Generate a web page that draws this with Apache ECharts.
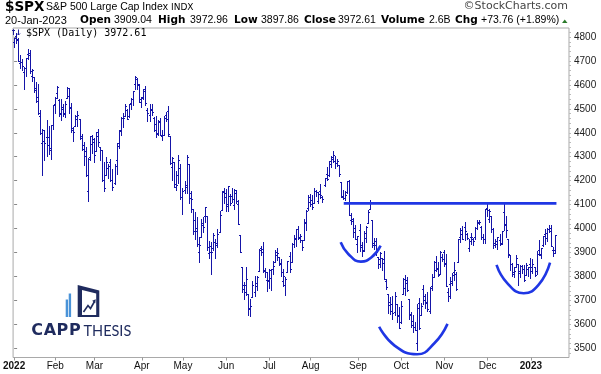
<!DOCTYPE html>
<html><head><meta charset="utf-8">
<script src="https://cdn.jsdelivr.net/npm/echarts@6/dist/echarts.min.js"></script>
<style>html,body{margin:0;padding:0;background:#fff}#c{width:601px;height:374px}</style>
</head><body><div id="c"></div>
<script>
// ---------- DATA (S&P 500 daily, 3-Jan-2022 .. 20-Jan-2023) ----------
const opens = [
// Jan 2022
4778.14,4804.51,4787.99,4693.39,4697.66,4655.34,4669.14,4728.59,4733.56,4637.99,4632.24,4588.03,4547.35,4471.38,4356.32,4366.64,4380.58,4380.58,4336.19,4431.79,
// Feb
4519.57,4566.39,4535.41,4482.79,4505.75,4480.02,4547.00,4553.24,4506.27,4412.61,4429.28,4455.75,4456.06,4384.57,4332.74,4324.93,4155.77,4298.38,4354.17,
// Mar
4363.14,4322.56,4401.31,4342.12,4327.01,4202.66,4223.10,4252.55,4279.50,4202.75,4188.82,4288.14,4345.11,4407.34,4462.40,4469.10,4493.10,4469.98,4522.66,4541.09,4602.86,4624.20,4599.02,
// Apr
4540.32,4547.97,4572.45,4494.17,4474.65,4494.15,4462.64,4437.59,4394.30,4449.12,4385.63,4390.63,4472.26,4489.17,4385.83,4255.34,4278.14,4186.52,4222.58,4253.75,
// May
4130.61,4159.78,4181.18,4270.43,4128.17,4081.27,4035.18,3990.08,3903.95,3963.90,4013.02,4052.00,4051.98,3899.00,3927.76,3919.42,3942.94,3929.59,3984.60,4077.43,4151.09,
// Jun
4149.78,4095.41,4137.57,4134.72,4096.47,4147.12,4101.65,3974.39,3838.15,3763.52,3764.05,3728.18,3665.90,3715.31,3733.89,3774.71,3821.75,3920.76,3913.00,3825.09,3785.99,
// Jul
3781.00,3792.61,3831.98,3858.85,3888.26,3880.94,3851.95,3779.67,3763.99,3818.00,3883.79,3860.73,3935.32,3955.47,3998.43,3965.72,3953.22,3951.43,4026.13,4087.33,
// Aug
4112.38,4104.21,4107.96,4154.85,4115.87,4155.93,4133.11,4181.02,4227.40,4225.02,4269.37,4290.46,4280.40,4273.13,4266.31,4195.08,4133.09,4126.55,4153.26,4198.74,4034.58,4041.25,4000.67,
// Sep
3936.73,3994.66,3930.89,3909.43,3959.94,4022.94,4083.67,4037.12,3940.73,3932.41,3880.95,3849.91,3875.23,3871.40,3782.36,3727.14,3682.72,3686.44,3651.94,3687.01,3633.48,
// Oct
3609.78,3726.46,3753.25,3771.97,3706.74,3644.79,3595.86,3590.83,3520.37,3690.41,3638.65,3746.26,3703.11,3689.05,3657.10,3762.01,3799.44,3825.97,3834.69,3808.26,3881.85,
// Nov
3901.79,3852.90,3733.25,3766.98,3780.71,3817.02,3810.94,3859.89,3963.72,3977.97,4006.41,3976.82,3919.26,3966.39,3956.23,3965.51,4000.30,4023.34,4005.36,3964.19,3957.18,
// Dec
4087.14,4040.17,4052.02,3996.63,3933.28,3947.79,3954.17,3939.29,4069.38,4015.54,3958.37,3890.91,3853.79,3810.47,3839.49,3853.26,3815.11,3843.34,3829.56,3805.45,3829.06,
// Jan 2023
3853.29,3840.36,3839.74,3823.37,3910.82,3888.57,3932.35,3977.57,3960.60,3999.28,4002.25,3911.84,3909.04
];
const highs = [
4796.64,4818.62,4797.70,4725.01,4707.95,4673.02,4714.13,4748.83,4744.13,4665.13,4632.24,4611.55,4602.11,4494.52,4417.35,4411.01,4453.23,4428.74,4432.72,4516.89,
4550.49,4595.31,4542.88,4539.66,4521.86,4531.32,4590.03,4588.92,4526.33,4426.22,4472.77,4489.55,4456.06,4394.60,4362.12,4341.51,4294.73,4385.34,4388.84,
4378.45,4401.48,4416.78,4342.12,4327.01,4276.94,4299.40,4268.28,4291.01,4247.57,4271.05,4357.86,4412.67,4465.40,4481.75,4522.00,4501.07,4520.58,4546.03,4575.65,4637.30,4627.77,4603.07,
4548.70,4583.50,4593.45,4503.94,4521.16,4520.41,4464.35,4471.00,4453.92,4460.46,4410.31,4471.03,4488.29,4512.94,4385.83,4299.02,4278.14,4240.71,4308.45,4269.68,
4169.81,4200.10,4307.66,4270.43,4157.69,4081.27,4068.82,4049.09,3964.80,4038.88,4046.46,4088.12,4051.98,3945.96,3943.42,3981.88,3955.68,3999.33,4075.14,4158.49,4168.34,
4166.54,4177.51,4142.67,4168.78,4164.86,4160.14,4119.10,3974.39,3838.15,3778.18,3837.56,3728.18,3707.71,3779.65,3801.79,3802.58,3913.65,3927.72,3945.86,3836.50,3818.99,
3829.82,3832.19,3865.06,3910.63,3918.50,3880.94,3873.41,3829.44,3796.41,3863.62,3902.44,3939.81,3974.13,3999.29,4012.44,3975.30,3953.22,4039.56,4078.95,4140.15,
4144.95,4140.47,4167.66,4161.29,4151.58,4186.62,4137.30,4211.03,4257.91,4280.47,4301.79,4325.28,4302.18,4292.53,4266.31,4195.08,4159.77,4156.56,4200.54,4203.04,4062.99,4044.98,4015.37,
3970.23,4018.43,3942.55,3987.89,4010.50,4076.81,4119.28,4037.12,3961.94,3959.14,3880.95,3900.45,3876.01,3907.07,3790.20,3727.14,3715.67,3717.53,3736.74,3687.01,3671.44,
3698.35,3791.92,3806.91,3797.93,3706.74,3652.17,3640.66,3611.72,3685.41,3712.00,3689.73,3762.79,3728.58,3736.00,3757.89,3810.74,3862.85,3886.15,3859.95,3905.42,3893.73,
3911.79,3894.44,3750.59,3796.34,3813.95,3859.40,3818.20,3958.33,4001.48,4008.97,4028.84,3983.09,3954.33,3979.89,3962.00,4005.88,4033.78,4034.02,4012.27,3976.77,4080.11,
4100.51,4080.48,4052.45,4001.51,3957.57,3966.65,3977.02,3990.71,4100.96,4053.76,3958.37,3890.91,3854.86,3838.24,3889.82,3853.26,3845.80,3846.65,3848.32,3858.19,3839.85,
3878.46,3873.16,3839.74,3906.19,3950.57,3919.83,3970.07,3997.76,4003.95,4015.39,4014.16,3922.94,3972.96
];
const lows = [
4758.17,4774.27,4699.44,4671.26,4662.74,4582.24,4638.27,4706.71,4650.29,4614.75,4568.70,4530.20,4477.95,4395.34,4222.62,4287.11,4304.80,4309.50,4292.46,4414.02,
4483.53,4544.32,4470.39,4451.50,4471.47,4465.40,4547.00,4484.31,4401.41,4364.84,4429.28,4429.68,4373.81,4327.22,4267.11,4221.51,4114.65,4286.83,4315.12,
4279.54,4322.56,4345.56,4284.98,4199.85,4157.87,4223.10,4209.80,4200.49,4161.72,4187.90,4229.34,4335.65,4390.57,4424.30,4469.10,4455.81,4465.17,4501.07,4517.69,4581.18,4581.32,4530.41,
4507.57,4539.21,4514.17,4450.04,4450.30,4474.60,4408.38,4381.34,4392.70,4392.59,4370.30,4390.63,4448.76,4384.47,4267.62,4200.82,4175.04,4162.90,4188.63,4124.28,
4062.51,4147.08,4148.91,4106.01,4067.91,3975.48,3958.17,3928.82,3858.87,3963.90,3983.99,4025.64,3911.91,3876.58,3810.32,3909.04,3875.13,3925.03,3984.60,4077.43,4104.88,
4073.85,4074.37,4098.67,4109.18,4080.19,4107.20,4017.17,3900.16,3734.30,3705.68,3722.30,3639.77,3636.87,3715.31,3717.69,3743.52,3821.75,3889.66,3820.14,3799.02,3738.67,
3752.10,3742.06,3811.39,3858.85,3869.34,3847.22,3802.36,3759.07,3721.56,3817.18,3818.63,3860.73,3922.03,3927.64,3955.77,3943.46,3910.74,3951.43,3992.97,4079.22,
4096.02,4079.81,4107.96,4135.42,4107.31,4128.97,4112.09,4177.26,4201.41,4219.78,4256.90,4277.77,4253.08,4261.98,4218.70,4129.86,4124.03,4119.97,4147.59,4057.66,4017.42,3965.21,3954.53,
3903.65,3906.21,3886.75,3906.03,3944.81,4022.94,4083.67,3921.21,3912.93,3888.28,3837.08,3838.50,3827.54,3789.49,3749.45,3647.47,3644.76,3623.29,3640.61,3610.40,3584.13,
3604.93,3726.46,3722.66,3739.22,3620.73,3588.10,3568.45,3575.47,3491.58,3579.68,3638.65,3686.53,3666.51,3656.44,3647.42,3741.65,3799.44,3824.07,3803.79,3808.26,3863.18,
3843.80,3758.68,3698.15,3708.84,3764.70,3786.28,3744.22,3859.89,3944.82,3956.40,3953.17,3954.34,3906.54,3935.98,3933.34,3956.88,3998.66,4020.76,3955.77,3937.65,3938.58,
4050.87,4026.63,3984.49,3918.39,3922.68,3916.54,3933.04,3935.30,3993.03,3965.65,3879.45,3827.91,3800.04,3795.62,3839.49,3764.49,3797.01,3813.22,3780.78,3805.45,3800.34,
3794.33,3815.77,3802.42,3809.56,3890.42,3877.29,3928.54,3937.56,3947.67,3984.57,3926.59,3885.54,3897.86
];
const closes = [
4796.56,4793.54,4700.58,4696.05,4677.03,4670.29,4713.07,4726.35,4659.03,4662.85,4577.11,4532.76,4482.73,4397.94,4410.13,4356.45,4349.93,4326.51,4431.85,4515.55,
4546.54,4589.38,4477.44,4500.53,4483.87,4521.54,4587.18,4504.08,4418.64,4401.67,4471.07,4475.01,4380.26,4348.87,4304.76,4225.50,4288.70,4384.65,4373.94,
4306.26,4386.54,4363.49,4328.87,4201.09,4170.70,4277.88,4259.52,4204.31,4173.11,4262.45,4357.86,4411.67,4463.12,4461.18,4511.61,4456.24,4520.16,4543.06,4575.52,4631.60,4602.45,4530.41,
4545.86,4582.64,4525.12,4481.15,4500.21,4488.28,4412.53,4397.45,4446.59,4392.59,4391.69,4462.21,4459.45,4393.66,4271.78,4296.12,4175.20,4183.96,4287.50,4131.93,
4155.38,4175.48,4300.17,4146.87,4123.34,3991.24,4001.05,3935.18,3930.08,4023.89,4008.01,4088.85,3923.68,3900.79,3901.36,3973.75,3941.48,3978.73,4057.84,4158.24,4132.15,
4101.23,4176.82,4108.54,4121.43,4160.68,4115.77,4017.82,3900.86,3749.63,3735.48,3789.99,3666.77,3674.84,3764.79,3759.89,3795.73,3911.74,3900.11,3821.55,3818.83,3785.38,
3825.33,3831.39,3845.08,3902.62,3899.38,3854.43,3818.80,3801.78,3790.38,3863.16,3830.85,3936.69,3959.90,3998.95,3961.63,3966.84,3921.05,4023.61,4072.43,4130.29,
4118.63,4091.19,4155.17,4151.94,4145.19,4140.06,4122.47,4210.24,4207.27,4280.15,4297.14,4305.20,4274.04,4283.74,4228.48,4137.99,4128.73,4140.77,4199.12,4057.66,4030.61,3986.16,3955.00,
3966.85,3924.26,3908.19,3979.87,4006.18,4067.36,4110.41,3932.69,3946.01,3901.35,3873.33,3899.89,3855.93,3789.93,3757.99,3693.23,3655.04,3647.29,3719.04,3640.47,3585.62,
3678.43,3790.93,3783.28,3744.52,3639.66,3612.39,3588.84,3577.03,3669.91,3583.07,3677.95,3719.98,3695.16,3665.78,3752.75,3797.34,3859.11,3830.60,3807.30,3901.06,3871.98,
3856.10,3759.69,3719.89,3770.55,3806.80,3828.11,3748.57,3956.37,3992.93,3957.25,3991.73,3958.79,3946.56,3965.34,3949.94,4003.58,4027.26,4026.12,3963.94,3957.63,4080.11,
4076.57,4071.70,3998.84,3941.26,3933.92,3963.51,3934.38,3990.56,4019.65,3995.32,3895.75,3852.36,3817.66,3821.62,3878.44,3822.39,3844.82,3829.25,3783.22,3849.28,3839.50,
3824.14,3852.97,3808.10,3895.08,3892.09,3919.25,3969.61,3983.17,3999.09,3990.97,3928.86,3898.85,3972.61
];
const holidays = ['2022-01-17','2022-02-21','2022-04-15','2022-05-30','2022-06-20','2022-07-04','2022-09-05','2022-11-24','2022-12-26','2023-01-02','2023-01-16'];
const yTicks = [3500,3600,3700,3800,3900,4000,4100,4200,4300,4400,4500,4600,4700,4800];
const monthNames = ['Jan','Feb','Mar','Apr','May','Jun','Jul','Aug','Sep','Oct','Nov','Dec'];
// annotations drawn by the chartist, in (trading-day position, price)
const resistanceLine = [[160.1,4105],[263.4,4105]];
const cupSep = [[158.6,3943],[162.3,3894],[168.4,3862],[173.6,3880],[178.0,3929]];
const cupOct = [[177.3,3590],[184.8,3511],[195.7,3475],[204.1,3521],[210.5,3602]];
const cupDec = [[234.3,3848],[239.5,3772],[247.5,3730],[254.7,3765],[260.3,3858]];

// ---------- build ----------
function tradingDays(start, end) {
  const out = [];
  const s = new Date(start + 'T00:00:00Z'), e = new Date(end + 'T00:00:00Z');
  for (let d = s; d <= e; d = new Date(d.getTime() + 86400000)) {
    const wd = d.getUTCDay();
    const iso = d.toISOString().slice(0, 10);
    if (wd === 0 || wd === 6 || holidays.includes(iso)) continue;
    out.push(iso);
  }
  return out;
}
const dates = tradingDays('2022-01-03', '2023-01-20');
const PAD = 6;
const categories = dates.concat(Array(PAD).fill(''));
const monthStart = new Set();
dates.forEach((d, i) => { if (i === 0 || d.slice(5, 7) !== dates[i - 1].slice(5, 7)) monthStart.add(i); });
const ohlcData = dates.map((d, i) => [i, opens[i], highs[i], lows[i], closes[i]]);
const minorTicks = [];
for (let v = 3480; v <= 4820; v += 20) minorTicks.push(v);

const BAR = '#1515a8';
const ANN = '#1f36e4';
const NAVY = '#1f2b5e';
const LBLUE = '#4a93d8';

const chart = echarts.init(document.getElementById('c'), null, {renderer: 'canvas'});

function txt(x, y, text, font, fill, align) {
  return {type: 'text', x: x, y: y, silent: true, z: 100,
    style: {text: text, font: font, fill: fill || '#000', align: align || 'left', verticalAlign: 'middle',
            textAlign: align || 'left', textVerticalAlign: 'middle'}};
}
const F = '"DejaVu Sans"';
const R = '10.5px "Liberation Sans"';
const B = 'bold 10.5px "DejaVu Sans"';
const graphics = [
  txt(5, 7.5, '$SPX', 'bold 13.5px ' + F),
  txt(46, 7.5, 'S&P 500 Large Cap Index', '10.5px "Liberation Sans"'),
  txt(171, 8, 'INDX', '9px ' + F),
  txt(568, 6.5, '\u00a9StockCharts.com', '11px ' + F, '#444', 'right'),
  txt(5, 20.5, '20-Jan-2023', '11px "Liberation Sans"'),
  txt(80, 20.5, 'Open', B),
  txt(114, 20.5, '3909.04', R),
  txt(158, 20.5, 'High', B),
  txt(190, 20.5, '3972.96', R),
  txt(234, 20.5, 'Low', B),
  txt(261, 20.5, '3897.86', R),
  txt(304, 20.5, 'Close', B),
  txt(338, 20.5, '3972.61', R),
  txt(381, 20.5, 'Volume', B),
  txt(429, 20.5, '2.6B', R),
  txt(455, 20.5, 'Chg', B),
  txt(481, 20.5, '+73.76 (+1.89%)', R),
  {type: 'polygon', silent: true, z: 100, shape: {points: [[562, 23], [567.5, 23], [564.75, 19.5]]}, style: {fill: '#2a7a2a'}},
  // legend
  txt(26, 33, '$SPX (Daily) 3972.61', '10px "DejaVu Sans Mono"', '#000'),
  {type: 'polyline', silent: true, z: 100, shape: {points: [[13.5, 35], [13.5, 29.5]]}, style: {stroke: '#22229a', lineWidth: 1}},
  {type: 'polyline', silent: true, z: 100, shape: {points: [[12, 31], [13.5, 29.5], [15, 31]]}, style: {stroke: '#22229a', lineWidth: 1, fill: null}},
  {type: 'polyline', silent: true, z: 100, shape: {points: [[18.5, 29.5], [18.5, 35]]}, style: {stroke: '#22229a', lineWidth: 1}},
  {type: 'polyline', silent: true, z: 100, shape: {points: [[17, 33.5], [18.5, 35], [20, 33.5]]}, style: {stroke: '#22229a', lineWidth: 1, fill: null}},
  // logo
  {type: 'rect', silent: true, z: 5, shape: {x: 65.7, y: 299.5, width: 2.3, height: 17.5}, style: {fill: LBLUE}},
  {type: 'rect', silent: true, z: 5, shape: {x: 68.7, y: 293.5, width: 2.4, height: 23.5}, style: {fill: LBLUE}},
  {type: 'polygon', silent: true, z: 5, shape: {points: [[77.7, 285], [99.3, 290.5], [99.3, 317], [77.7, 317]]}, style: {fill: NAVY}},
  {type: 'polygon', silent: true, z: 6, shape: {points: [[82, 290], [96.2, 293.6], [96.2, 315], [82, 315]]}, style: {fill: '#fff'}},
  {type: 'polyline', silent: true, z: 7, shape: {points: [[83.5, 312], [88, 305.5], [90.5, 308.5], [94.5, 301.5]]}, style: {stroke: NAVY, lineWidth: 1.6, fill: null}},
  {type: 'polygon', silent: true, z: 7, shape: {points: [[95.8, 299.3], [92.2, 300.8], [95.2, 303.2]]}, style: {fill: NAVY}},
];
'CAPP'.split('').forEach((ch, k) => graphics.push(txt(31.2 + k * 12.6, 331, ch, 'bold 16px "DejaVu Sans"', NAVY)));
graphics.push(txt(83.5, 331, 'THESIS', '14.5px "Lato"', NAVY));

const lineSeries = (data) => ({
  type: 'line', xAxisIndex: 1, yAxisIndex: 0, data: data, smooth: true, symbol: 'none',
  silent: true, z: 10, lineStyle: {color: ANN, width: 2.6}, clip: false
});

chart.setOption({
  animation: false,
  backgroundColor: '#fff',
  grid: {left: 9, top: 28, width: 560, height: 329.5, show: true, borderColor: '#a9a9a9', borderWidth: 1, backgroundColor: '#fff'},
  xAxis: [{
    type: 'category', data: categories, boundaryGap: true,
    axisLine: {show: false},
    axisTick: {show: true, length: 3, interval: (i) => monthStart.has(i), alignWithLabel: true, lineStyle: {color: '#999'}},
    axisLabel: {
      interval: (i) => monthStart.has(i), margin: 4, color: '#111', fontFamily: '"Liberation Sans"', fontSize: 10,
      formatter: (v) => {
        if (!v) return '';
        const y = v.slice(0, 4), m = +v.slice(5, 7);
        return m === 1 ? '{y|' + y + '}' : monthNames[m - 1];
      },
      rich: {y: {fontWeight: 'bold', fontFamily: '"Liberation Sans"', fontSize: 10, color: '#111'}}
    },
    splitLine: {show: false}
  }, {
    type: 'value', min: -0.5, max: categories.length - 0.5, show: false
  }],
  yAxis: [{
    type: 'value', position: 'right', min: 3461.5, max: 4837.6,
    splitLine: {show: false}, axisLine: {show: false},
    axisTick: {show: true, customValues: yTicks, length: 3, lineStyle: {color: '#888'}},
    axisLabel: {customValues: yTicks, margin: 5, color: '#222', fontFamily: '"Liberation Sans"', fontSize: 10,
                formatter: (v) => String(Math.round(v))}
  }, {
    type: 'value', position: 'right', min: 3461.5, max: 4837.6,
    splitLine: {show: false}, axisLine: {show: false},
    axisTick: {show: true, customValues: minorTicks, length: 2, lineStyle: {color: '#bbb'}},
    axisLabel: {show: false}
  }],
  graphic: graphics,
  series: [{
    type: 'custom', xAxisIndex: 0, yAxisIndex: 0, silent: true, z: 5,
    encode: {x: 0, y: [1, 2, 3, 4]},
    data: ohlcData,
    itemStyle: {color: BAR},
    renderItem: (params, api) => {
      const i = api.value(0);
      const pH = api.coord([i, api.value(2)]);
      const pL = api.coord([i, api.value(3)]);
      const pO = api.coord([i, api.value(1)]);
      const pC = api.coord([i, api.value(4)]);
      const px = Math.round(pH[0] - 0.5);
      const yo = Math.round(pO[1]), yc = Math.round(pC[1]);
      const yh = Math.round(pH[1]), yl = Math.round(pL[1]);
      return {type: 'group', children: [
        {type: 'rect', shape: {x: px, y: yh, width: 1, height: Math.max(1, yl - yh + 1)}, style: {fill: BAR}},
        {type: 'rect', shape: {x: px - 1, y: yo, width: 1, height: 1}, style: {fill: BAR}},
        {type: 'rect', shape: {x: px + 1, y: yc, width: 1, height: 1}, style: {fill: BAR}}
      ]};
    }
  },
  Object.assign(lineSeries(resistanceLine), {smooth: false}),
  lineSeries(cupSep),
  lineSeries(cupOct),
  lineSeries(cupDec)
  ]
});
</script>
</body></html>
